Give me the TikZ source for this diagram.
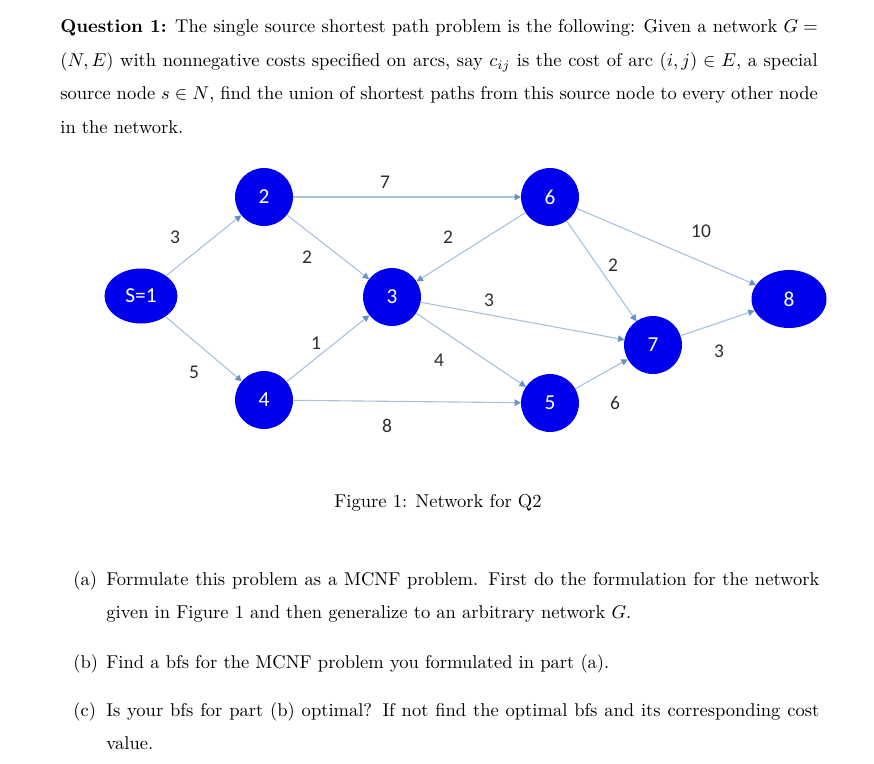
\documentclass[tikz,border=0pt]{standalone}
\usepackage{amsmath}
\usepackage{amssymb}
\usepackage{fontspec}
\usepackage{tikz, tkz-graph}
\usetikzlibrary{arrows.meta, shapes.geometric}
\newfontfamily\calfont{Carlito}
\definecolor{nodeblue}{RGB}{0,0,238}
\definecolor{arcblue}{RGB}{168,194,220}
\definecolor{tipblue}{RGB}{105,145,195}
\definecolor{costgray}{RGB}{45,45,45}

\begin{document}
\begin{tikzpicture}[x=0.54pt, y=-0.54pt,
    cost/.style={font=\calfont\fontsize{10.5}{12}\selectfont, text=costgray, inner sep=1pt},
    para/.style={font=\fontsize{10}{18.1}\selectfont, align=justify, inner sep=0pt, anchor=base west}]
      \useasboundingbox (0,0) rectangle (874,763);
        \node[para, text width=409pt] (quest) at (60,32.7) {\textbf{Question 1:} The single source shortest path problem is the following: Given a network $G =$\linebreak$(N, E)$ with nonnegative costs specified on arcs, say $c_{ij}$ is the cost of arc $(i, j) \in E$, a special\linebreak source node $s \in N$, find the union of shortest paths from this source node to every other node\linebreak in the network.};
        \GraphInit[vstyle=Normal]
        \tikzset{VertexStyle/.style={ellipse, fill=nodeblue, text=white, minimum width=39.4pt, minimum height=29.7pt, inner sep=0pt, font=\calfont\fontsize{11.5}{12}\selectfont}}
        \Vertex[x=141, y=296, L={S=1}]{A}
        \tikzset{VertexStyle/.append style={circle, minimum size=31.3pt}}
        \Vertex[x=264, y=197, L=2]{B}
        \Vertex[x=392, y=297, L=3]{C}
        \Vertex[x=264, y=400, L=4]{D}
        \Vertex[x=550, y=403, L=5]{E}
        \Vertex[x=550, y=197, L=6]{F}
        \Vertex[x=653, y=345, L=7]{G}
        \tikzset{VertexStyle/.append style={ellipse, minimum width=40.5pt, minimum height=31.3pt}}
        \Vertex[x=789, y=299, L=8]{H}
        \tikzset{EdgeStyle/.style={draw, color=arcblue, line width=0.6pt, -{Triangle[length=3.5pt, width=3.5pt, color=tipblue]}}}
        \Edge(A)(B)
        \Edge(A)(D)
        \Edge(B)(C)
        \Edge(D)(C)
        \Edge(B)(F)
        \Edge(D)(E)
        \Edge(F)(C)
        \Edge(C)(G)
        \Edge(C)(E)
        \Edge(F)(G)
        \Edge(F)(H)
        \Edge(E)(G)
        \Edge(G)(H)
        % arc costs
        \node[cost] (cAB) at (175,237) {3};
        \node[cost] (cAD) at (194,372) {5};
        \node[cost] (cBC) at (307,257) {2};
        \node[cost] (cDC) at (316,343) {1};
        \node[cost] (cBF) at (385,182) {7};
        \node[cost] (cDE) at (387,426) {8};
        \node[cost] (cFC) at (448,237) {2};
        \node[cost] (cCG) at (489,300) {3};
        \node[cost] (cCE) at (439,360) {4};
        \node[cost] (cFG) at (613,265) {2};
        \node[cost] (cFH) at (701,231) {10};
        \node[cost] (cGH) at (719,351) {3};
        \node[cost] (cEG) at (615,403) {6};
        \node[para, anchor=base] (capt) at (438,507.7) {Figure 1: Network for Q2};
        \node[para] (la) at (73,585) {(a)};
        \node[para, text width=385pt] (parta) at (106,585) {Formulate this problem as a MCNF problem. First do the formulation for the network given in Figure 1 and then generalize to an arbitrary network $G$.};
        \node[para] (lb) at (73,668) {(b)};
        \node[para, text width=385pt] (partb) at (106,668) {Find a bfs for the MCNF problem you formulated in part (a).};
        \node[para] (lc) at (73,716) {(c)};
        \node[para, text width=385pt] (partc) at (106,716) {Is your bfs for part (b) optimal? If not find the optimal bfs and its corresponding cost value.};
    \end{tikzpicture}
\end{document}
